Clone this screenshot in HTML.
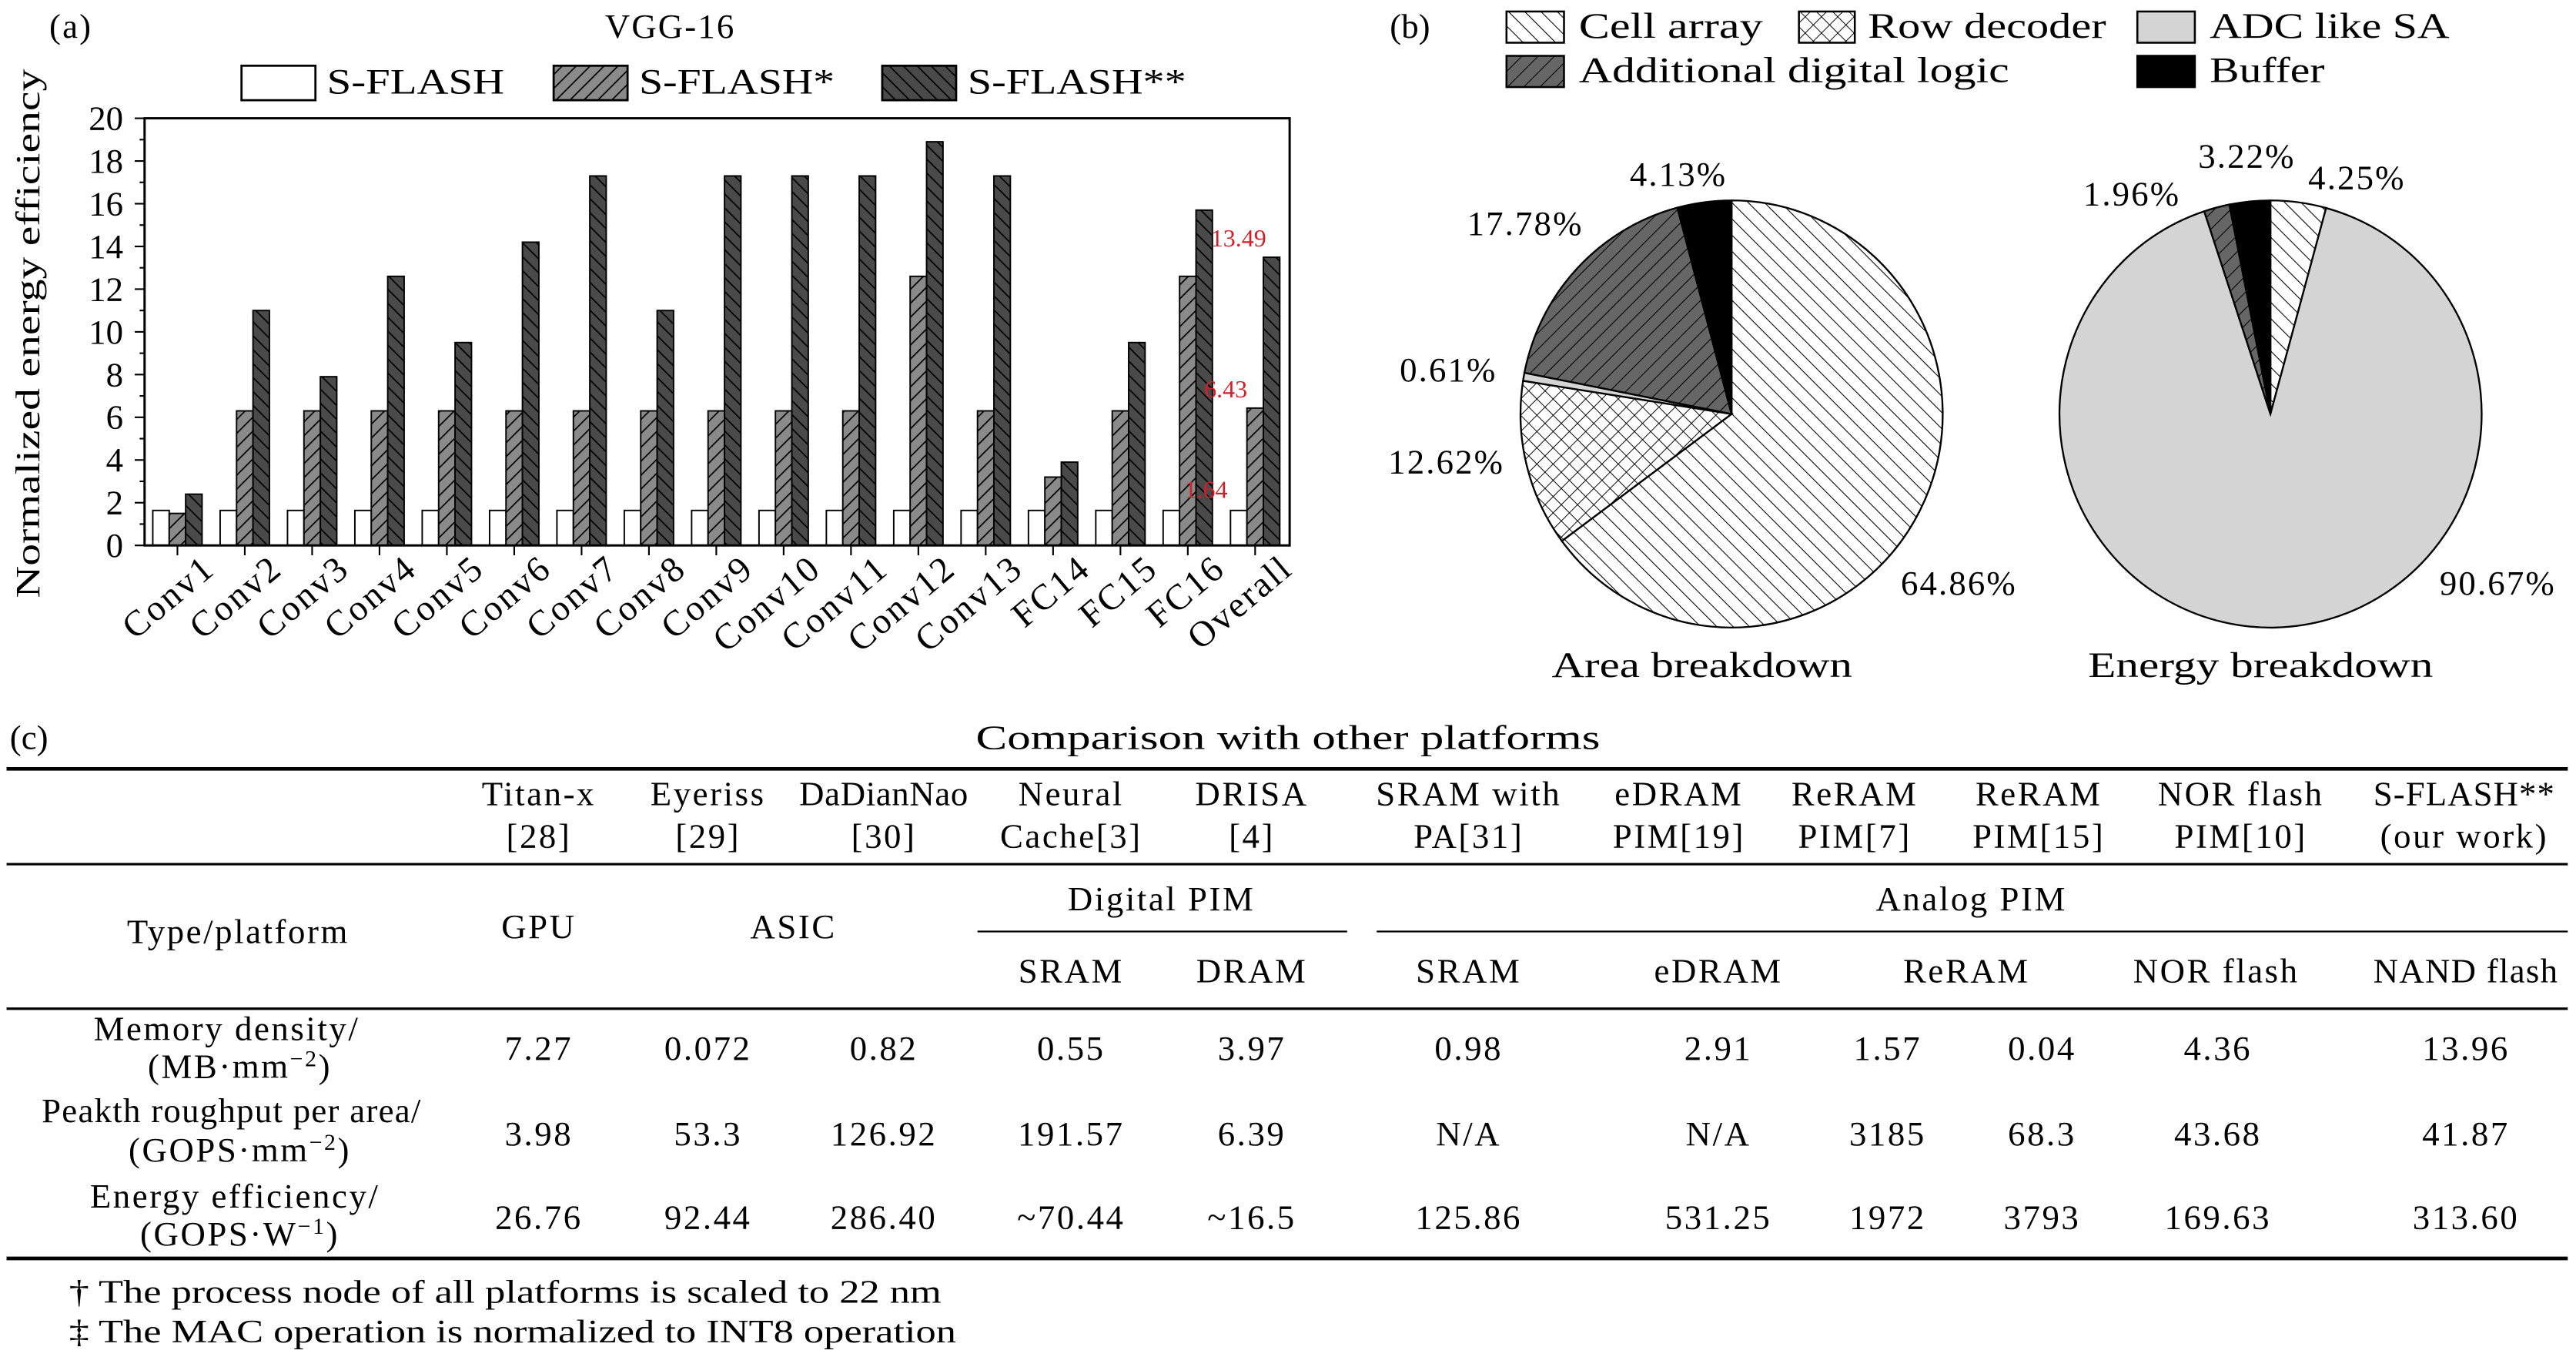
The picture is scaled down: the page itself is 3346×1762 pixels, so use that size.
<!DOCTYPE html>
<html><head><meta charset="utf-8"><style>
html,body{margin:0;padding:0;background:#fff}
svg{display:block}
text{font-family:"Liberation Serif",serif;fill:#000}
.t{font-size:21px;letter-spacing:1.2px}
</style></head><body>
<svg width="3346" height="1762" viewBox="0 0 1568 826" preserveAspectRatio="none" xmlns="http://www.w3.org/2000/svg">
<defs>
<pattern id="pg" width="6" height="6" patternUnits="userSpaceOnUse" patternTransform="rotate(45)"><rect width="6" height="6" fill="#8a8a8a"/><line x1="0" y1="0" x2="0" y2="6" stroke="#000" stroke-width="1.6"/></pattern>
<pattern id="pd" width="6" height="6" patternUnits="userSpaceOnUse" patternTransform="rotate(-45)"><rect width="6" height="6" fill="#4a4a4a"/><line x1="0" y1="0" x2="0" y2="6" stroke="#000" stroke-width="1.6"/></pattern>
<pattern id="pc" width="7" height="7" patternUnits="userSpaceOnUse" patternTransform="rotate(-45)"><rect width="7" height="7" fill="#fff"/><line x1="0" y1="0" x2="0" y2="7" stroke="#000" stroke-width="1"/></pattern>
<pattern id="px" width="7" height="7" patternUnits="userSpaceOnUse" patternTransform="rotate(45)"><rect width="7" height="7" fill="#fff"/><line x1="0" y1="0" x2="0" y2="7" stroke="#000" stroke-width="0.9"/><line x1="0" y1="0" x2="7" y2="0" stroke="#000" stroke-width="0.9"/></pattern>
<pattern id="pa" width="7" height="7" patternUnits="userSpaceOnUse" patternTransform="rotate(45)"><rect width="7" height="7" fill="#666"/><line x1="0" y1="0" x2="0" y2="7" stroke="#000" stroke-width="1"/></pattern>
</defs>

<!-- Panel (a) -->
<text x="30" y="23" font-size="21" letter-spacing="1">(a)</text>
<text x="408" y="23" font-size="21" letter-spacing="1" text-anchor="middle">VGG-16</text>
<rect x="147" y="40" width="45" height="21" fill="#fff" stroke="#000" stroke-width="1.3"/>
<text x="199" y="57" font-size="22" textLength="108" lengthAdjust="spacingAndGlyphs">S-FLASH</text>
<rect x="337" y="40" width="45" height="21" fill="url(#pg)" stroke="#000" stroke-width="1.3"/>
<text x="389" y="57" font-size="22" textLength="119" lengthAdjust="spacingAndGlyphs">S-FLASH*</text>
<rect x="537" y="40" width="45" height="21" fill="url(#pd)" stroke="#000" stroke-width="1.3"/>
<text x="589" y="57" font-size="22" textLength="133" lengthAdjust="spacingAndGlyphs">S-FLASH**</text>

<text transform="translate(24,203) rotate(-90)" font-size="21" text-anchor="middle" textLength="322" lengthAdjust="spacingAndGlyphs">Normalized energy efficiency</text>

<g font-size="21" text-anchor="end">
<text x="75" y="339">0</text><text x="75" y="313">2</text><text x="75" y="287">4</text><text x="75" y="261">6</text><text x="75" y="235">8</text><text x="75" y="209">10</text><text x="75" y="183">12</text><text x="75" y="157">14</text><text x="75" y="131">16</text><text x="75" y="105">18</text><text x="75" y="79">20</text>
</g>
<g stroke="#000" stroke-width="1">
<line x1="88" y1="332" x2="82" y2="332"/><line x1="88" y1="306" x2="82" y2="306"/><line x1="88" y1="280" x2="82" y2="280"/><line x1="88" y1="254" x2="82" y2="254"/><line x1="88" y1="228" x2="82" y2="228"/><line x1="88" y1="202" x2="82" y2="202"/><line x1="88" y1="176" x2="82" y2="176"/><line x1="88" y1="150" x2="82" y2="150"/><line x1="88" y1="124" x2="82" y2="124"/><line x1="88" y1="98" x2="82" y2="98"/><line x1="88" y1="72" x2="82" y2="72"/>
<line x1="88" y1="319" x2="85" y2="319"/><line x1="88" y1="293" x2="85" y2="293"/><line x1="88" y1="267" x2="85" y2="267"/><line x1="88" y1="241" x2="85" y2="241"/><line x1="88" y1="215" x2="85" y2="215"/><line x1="88" y1="189" x2="85" y2="189"/><line x1="88" y1="163" x2="85" y2="163"/><line x1="88" y1="137" x2="85" y2="137"/><line x1="88" y1="111" x2="85" y2="111"/><line x1="88" y1="85" x2="85" y2="85"/>
</g>

<g stroke="#000" stroke-width="0.9">
<g fill="#fff">
<rect x="93" y="310.7" width="10" height="21.3"/><rect x="134" y="310.7" width="10" height="21.3"/><rect x="175" y="310.7" width="10" height="21.3"/><rect x="216" y="310.7" width="10" height="21.3"/><rect x="257" y="310.7" width="10" height="21.3"/><rect x="298" y="310.7" width="10" height="21.3"/><rect x="339" y="310.7" width="10" height="21.3"/><rect x="380" y="310.7" width="10" height="21.3"/><rect x="421" y="310.7" width="10" height="21.3"/><rect x="462" y="310.7" width="10" height="21.3"/><rect x="503" y="310.7" width="10" height="21.3"/><rect x="544" y="310.7" width="10" height="21.3"/><rect x="585" y="310.7" width="10" height="21.3"/><rect x="626" y="310.7" width="10" height="21.3"/><rect x="667" y="310.7" width="10" height="21.3"/><rect x="708" y="310.7" width="10" height="21.3"/><rect x="749" y="310.7" width="10" height="21.3"/>
</g>
<g fill="url(#pg)">
<rect x="103" y="312.5" width="10" height="19.5"/><rect x="144" y="250.1" width="10" height="81.9"/><rect x="185" y="250.1" width="10" height="81.9"/><rect x="226" y="250.1" width="10" height="81.9"/><rect x="267" y="250.1" width="10" height="81.9"/><rect x="308" y="250.1" width="10" height="81.9"/><rect x="349" y="250.1" width="10" height="81.9"/><rect x="390" y="250.1" width="10" height="81.9"/><rect x="431" y="250.1" width="10" height="81.9"/><rect x="472" y="250.1" width="10" height="81.9"/><rect x="513" y="250.1" width="10" height="81.9"/><rect x="554" y="168.2" width="10" height="163.8"/><rect x="595" y="250.1" width="10" height="81.9"/><rect x="636" y="290.4" width="10" height="41.6"/><rect x="677" y="250.1" width="10" height="81.9"/><rect x="718" y="168.2" width="10" height="163.8"/><rect x="759" y="248.4" width="10" height="83.6"/>
</g>
<g fill="url(#pd)">
<rect x="113" y="300.8" width="10" height="31.2"/><rect x="154" y="189" width="10" height="143"/><rect x="195" y="229.3" width="10" height="102.7"/><rect x="236" y="168.2" width="10" height="163.8"/><rect x="277" y="208.5" width="10" height="123.5"/><rect x="318" y="147.4" width="10" height="184.6"/><rect x="359" y="107.1" width="10" height="224.9"/><rect x="400" y="189" width="10" height="143"/><rect x="441" y="107.1" width="10" height="224.9"/><rect x="482" y="107.1" width="10" height="224.9"/><rect x="523" y="107.1" width="10" height="224.9"/><rect x="564" y="86.3" width="10" height="245.7"/><rect x="605" y="107.1" width="10" height="224.9"/><rect x="646" y="281.3" width="10" height="50.7"/><rect x="687" y="208.5" width="10" height="123.5"/><rect x="728" y="127.9" width="10" height="204.1"/><rect x="769" y="156.6" width="10" height="175.4"/>
</g>
</g>
<rect x="88" y="72" width="697" height="260" fill="none" stroke="#000" stroke-width="1.4"/>
<g stroke="#000" stroke-width="1">
<line x1="108" y1="332" x2="108" y2="338"/><line x1="149" y1="332" x2="149" y2="338"/><line x1="190" y1="332" x2="190" y2="338"/><line x1="231" y1="332" x2="231" y2="338"/><line x1="272" y1="332" x2="272" y2="338"/><line x1="313" y1="332" x2="313" y2="338"/><line x1="354" y1="332" x2="354" y2="338"/><line x1="395" y1="332" x2="395" y2="338"/><line x1="436" y1="332" x2="436" y2="338"/><line x1="477" y1="332" x2="477" y2="338"/><line x1="518" y1="332" x2="518" y2="338"/><line x1="559" y1="332" x2="559" y2="338"/><line x1="600" y1="332" x2="600" y2="338"/><line x1="641" y1="332" x2="641" y2="338"/><line x1="682" y1="332" x2="682" y2="338"/><line x1="723" y1="332" x2="723" y2="338"/><line x1="764" y1="332" x2="764" y2="338"/>
</g>
<g font-size="22" letter-spacing="1.3" text-anchor="end">
<text transform="translate(132,348) rotate(-40)">Conv1</text>
<text transform="translate(173,348) rotate(-40)">Conv2</text>
<text transform="translate(214,348) rotate(-40)">Conv3</text>
<text transform="translate(255,348) rotate(-40)">Conv4</text>
<text transform="translate(296,348) rotate(-40)">Conv5</text>
<text transform="translate(337,348) rotate(-40)">Conv6</text>
<text transform="translate(378,348) rotate(-40)">Conv7</text>
<text transform="translate(419,348) rotate(-40)">Conv8</text>
<text transform="translate(460,348) rotate(-40)">Conv9</text>
<text transform="translate(501,348) rotate(-40)">Conv10</text>
<text transform="translate(542,348) rotate(-40)">Conv11</text>
<text transform="translate(583,348) rotate(-40)">Conv12</text>
<text transform="translate(624,348) rotate(-40)">Conv13</text>
<text transform="translate(665,348) rotate(-40)">FC14</text>
<text transform="translate(706,348) rotate(-40)">FC15</text>
<text transform="translate(747,348) rotate(-40)">FC16</text>
<text transform="translate(788,348) rotate(-40)">Overall</text>
</g>
<g font-size="15">
<text x="737" y="150" style="fill:#d0202a">13.49</text>
<text x="733" y="242" style="fill:#d0202a">6.43</text>
<text x="721" y="303" style="fill:#d0202a">1.64</text>
</g>

<!-- Panel (b) -->
<text x="846" y="23" font-size="21">(b)</text>
<rect x="917" y="7" width="35" height="19" fill="url(#pc)" stroke="#000" stroke-width="1.2"/>
<text x="961" y="23" font-size="22" textLength="112" lengthAdjust="spacingAndGlyphs">Cell array</text>
<rect x="1095" y="7" width="34" height="19" fill="url(#px)" stroke="#000" stroke-width="1.2"/>
<text x="1137" y="23" font-size="22" textLength="145" lengthAdjust="spacingAndGlyphs">Row decoder</text>
<rect x="1301" y="7" width="35" height="19" fill="#d4d4d4" stroke="#000" stroke-width="1.2"/>
<text x="1345" y="23" font-size="22" textLength="146" lengthAdjust="spacingAndGlyphs">ADC like SA</text>
<rect x="917" y="34" width="35" height="19" fill="url(#pa)" stroke="#000" stroke-width="1.2"/>
<text x="961" y="50" font-size="22" textLength="262" lengthAdjust="spacingAndGlyphs">Additional digital logic</text>
<rect x="1301" y="34" width="35" height="19" fill="#000" stroke="#000" stroke-width="1.2"/>
<text x="1345" y="50" font-size="22" textLength="70" lengthAdjust="spacingAndGlyphs">Buffer</text>

<g stroke="#000" stroke-width="1.1">
<path d="M1054,252 L1054,122 A128.5,130 0 1 1 950.7,329.3 Z" fill="url(#pc)"/>
<path d="M1054,252 L950.7,329.3 A128.5,130 0 0 1 927.1,231.8 Z" fill="url(#px)"/>
<path d="M1054,252 L927.1,231.8 A128.5,130 0 0 1 927.9,226.9 Z" fill="#d4d4d4"/>
<path d="M1054,252 L927.9,226.9 A128.5,130 0 0 1 1021,126.4 Z" fill="url(#pa)"/>
<path d="M1054,252 L1021,126.4 A128.5,130 0 0 1 1054,122 Z" fill="#000"/>

<path d="M1382,252 L1382,122 A128.5,130 0 0 1 1415.9,126.6 Z" fill="url(#pc)"/>
<path d="M1382,252 L1415.9,126.6 A128.5,130 0 1 1 1341.7,128.6 Z" fill="#d4d4d4"/>
<path d="M1382,252 L1341.7,128.6 A128.5,130 0 0 1 1357,124.5 Z" fill="url(#pa)"/>
<path d="M1382,252 L1357,124.5 A128.5,130 0 0 1 1382,122 Z" fill="#000"/>
</g>
<g font-size="21" letter-spacing="1">
<text x="992" y="113">4.13%</text>
<text x="893" y="143">17.78%</text>
<text x="852" y="232">0.61%</text>
<text x="845" y="288">12.62%</text>
<text x="1157" y="362">64.86%</text>
<text x="1268" y="125">1.96%</text>
<text x="1338" y="102">3.22%</text>
<text x="1405" y="115">4.25%</text>
<text x="1485" y="362">90.67%</text>
</g>
<text x="1036" y="412" text-anchor="middle" font-size="22" textLength="183" lengthAdjust="spacingAndGlyphs">Area breakdown</text>
<text x="1376" y="412" text-anchor="middle" font-size="22" textLength="210" lengthAdjust="spacingAndGlyphs">Energy breakdown</text>

<!-- Panel (c) -->
<text x="6" y="456" font-size="21">(c)</text>
<text x="784" y="456" font-size="21" text-anchor="middle" textLength="380" lengthAdjust="spacingAndGlyphs">Comparison with other platforms</text>
<g stroke="#000">
<line x1="4" y1="468" x2="1563" y2="468" stroke-width="2.2"/>
<line x1="4" y1="526" x2="1563" y2="526" stroke-width="1.5"/>
<line x1="595" y1="567" x2="820" y2="567" stroke-width="1.1"/>
<line x1="838" y1="567" x2="1563" y2="567" stroke-width="1.1"/>
<line x1="4" y1="614" x2="1563" y2="614" stroke-width="1.5"/>
<line x1="4" y1="766" x2="1563" y2="766" stroke-width="2.2"/>
</g>
<g class="t" text-anchor="middle">
<text x="328" y="490">Titan-x</text><text x="328" y="516">[28]</text>
<text x="431" y="490">Eyeriss</text><text x="431" y="516">[29]</text>
<text x="538" y="490" letter-spacing="0.3">DaDianNao</text><text x="538" y="516">[30]</text>
<text x="652" y="490">Neural</text><text x="652" y="516">Cache[3]</text>
<text x="762" y="490">DRISA</text><text x="762" y="516">[4]</text>
<text x="894" y="490">SRAM with</text><text x="894" y="516">PA[31]</text>
<text x="1022" y="490">eDRAM</text><text x="1022" y="516">PIM[19]</text>
<text x="1129" y="490">ReRAM</text><text x="1129" y="516">PIM[7]</text>
<text x="1241" y="490">ReRAM</text><text x="1241" y="516">PIM[15]</text>
<text x="1364" y="490">NOR flash</text><text x="1364" y="516">PIM[10]</text>
<text x="1500" y="490" letter-spacing="0.5">S-FLASH**</text><text x="1500" y="516">(our work)</text>

<text x="145" y="574">Type/platform</text>
<text x="328" y="571">GPU</text>
<text x="483" y="571">ASIC</text>
<text x="707" y="554">Digital PIM</text>
<text x="1200" y="554">Analog PIM</text>
<text x="652" y="598">SRAM</text><text x="762" y="598">DRAM</text>
<text x="894" y="598">SRAM</text><text x="1046" y="598">eDRAM</text>
<text x="1197" y="598">ReRAM</text><text x="1349" y="598">NOR flash</text>
<text x="1501" y="598" letter-spacing="0.6">NAND flash</text>

<text x="138" y="633">Memory density/</text><text x="146" y="656">(MB·mm<tspan dy="-7" font-size="14">−2</tspan><tspan dy="7">)</tspan></text>
<text x="141" y="683" letter-spacing="0.6">Peakth roughput per area/</text><text x="146" y="707">(GOPS·mm<tspan dy="-7" font-size="14">−2</tspan><tspan dy="7">)</tspan></text>
<text x="143" y="735">Energy efficiency/</text><text x="146" y="758">(GOPS·W<tspan dy="-7" font-size="14">−1</tspan><tspan dy="7">)</tspan></text>

<text x="328" y="645">7.27</text><text x="431" y="645">0.072</text><text x="538" y="645">0.82</text><text x="652" y="645">0.55</text><text x="762" y="645">3.97</text><text x="894" y="645">0.98</text><text x="1046" y="645">2.91</text><text x="1149" y="645">1.57</text><text x="1243" y="645">0.04</text><text x="1350" y="645">4.36</text><text x="1501" y="645">13.96</text>
<text x="328" y="697">3.98</text><text x="431" y="697">53.3</text><text x="538" y="697">126.92</text><text x="652" y="697">191.57</text><text x="762" y="697">6.39</text><text x="894" y="697">N/A</text><text x="1046" y="697">N/A</text><text x="1149" y="697">3185</text><text x="1243" y="697">68.3</text><text x="1350" y="697">43.68</text><text x="1501" y="697">41.87</text>
<text x="328" y="748">26.76</text><text x="431" y="748">92.44</text><text x="538" y="748">286.40</text><text x="652" y="748">~70.44</text><text x="762" y="748">~16.5</text><text x="894" y="748">125.86</text><text x="1046" y="748">531.25</text><text x="1149" y="748">1972</text><text x="1243" y="748">3793</text><text x="1350" y="748">169.63</text><text x="1501" y="748">313.60</text>
</g>
<text x="42" y="793" font-size="20" textLength="531" lengthAdjust="spacingAndGlyphs">† The process node of all platforms is scaled to 22 nm</text>
<text x="42" y="817" font-size="20" textLength="540" lengthAdjust="spacingAndGlyphs">‡ The MAC operation is normalized to INT8 operation</text>
</svg>
</body></html>
